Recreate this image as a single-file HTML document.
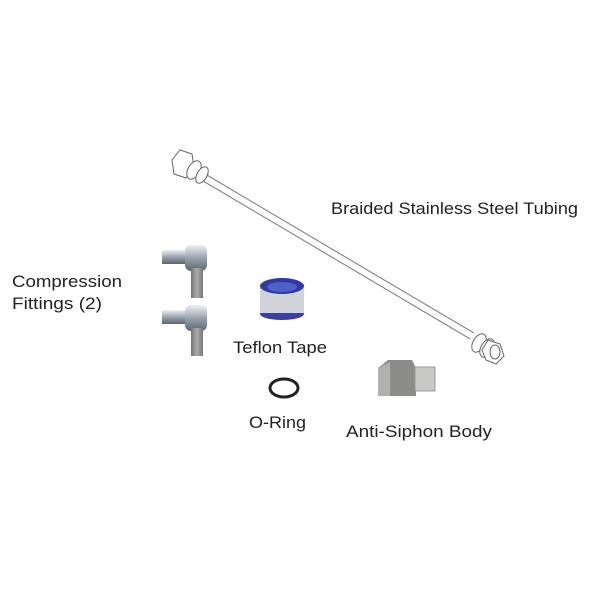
<!DOCTYPE html>
<html><head><style>
body{margin:0;background:#fff}
svg text{font-family:"Liberation Sans",sans-serif;font-size:17px;fill:#222}
</style></head><body>
<svg width="600" height="600" viewBox="0 0 600 600" xmlns="http://www.w3.org/2000/svg">
<defs>
<linearGradient id="m" x1="0" y1="0" x2="0" y2="1"><stop offset="0" stop-color="#eef1f5"/><stop offset=".5" stop-color="#9aa3ad"/><stop offset="1" stop-color="#5d6670"/></linearGradient>
<linearGradient id="g" x1="0" y1="0" x2="1" y2="0"><stop offset="0" stop-color="#777"/><stop offset=".5" stop-color="#aaa"/><stop offset="1" stop-color="#777"/></linearGradient>
</defs>
<!-- tube -->
<g stroke="#666" fill="#fff" stroke-width="1">
<line x1="205" y1="178" x2="472" y2="336" stroke="#777" stroke-width="8"/>
<line x1="205" y1="178" x2="472" y2="336" stroke="#fff" stroke-width="6"/>
<polygon points="172,160 180,150 192,154 194,168 186,178 174,174"/>
<ellipse cx="194" cy="170" rx="6" ry="10" transform="rotate(30 194 170)"/>
<ellipse cx="202" cy="175" rx="5" ry="9" transform="rotate(30 202 175)"/>
<ellipse cx="479" cy="343" rx="6" ry="10" transform="rotate(30 479 343)"/>
<ellipse cx="487" cy="348" rx="6" ry="10" transform="rotate(30 487 348)"/>
<polygon points="488,340 500,344 504,356 496,364 486,360 482,350"/>
<ellipse cx="495" cy="352" rx="5" ry="7"/>
</g>
<!-- fittings -->
<g>
<rect x="162" y="250" width="25" height="14" fill="url(#m)"/>
<rect x="185" y="245" width="22" height="26" rx="6" fill="url(#m)"/>
<rect x="191" y="268" width="12" height="30" fill="url(#g)"/>
<rect x="162" y="310" width="25" height="14" fill="url(#m)"/>
<rect x="185" y="305" width="22" height="26" rx="6" fill="url(#m)"/>
<rect x="191" y="328" width="12" height="28" fill="url(#g)"/>
</g>
<!-- tape -->
<ellipse cx="282" cy="314" rx="22" ry="6" fill="#3a3fa0"/>
<rect x="260" y="284" width="44" height="29" fill="#d0d3d8"/>
<ellipse cx="282" cy="286" rx="22" ry="8" fill="#2f3aa8"/>
<ellipse cx="282" cy="287" rx="15" ry="5" fill="#5060c8"/>
<!-- o-ring -->
<ellipse cx="284" cy="388" rx="14" ry="9" fill="none" stroke="#222" stroke-width="3"/>
<!-- anti-siphon -->
<polygon points="378,368 388,360 412,360 416,368 416,396 378,396" fill="#8c8c8a"/>
<polygon points="378,368 390,362 390,396 378,396" fill="#b0b0ae"/>
<rect x="415" y="367" width="20" height="24" fill="#c8c8c6" stroke="#999"/>
<!-- labels -->
<text x="331" y="214" textLength="247" lengthAdjust="spacingAndGlyphs">Braided Stainless Steel Tubing</text>
<text x="12" y="287" textLength="110" lengthAdjust="spacingAndGlyphs">Compression</text>
<text x="12" y="309" textLength="90" lengthAdjust="spacingAndGlyphs">Fittings (2)</text>
<text x="233" y="353" textLength="94" lengthAdjust="spacingAndGlyphs">Teflon Tape</text>
<text x="249" y="428" textLength="57" lengthAdjust="spacingAndGlyphs">O-Ring</text>
<text x="346" y="437" textLength="146" lengthAdjust="spacingAndGlyphs">Anti-Siphon Body</text>
</svg>
</body></html>
